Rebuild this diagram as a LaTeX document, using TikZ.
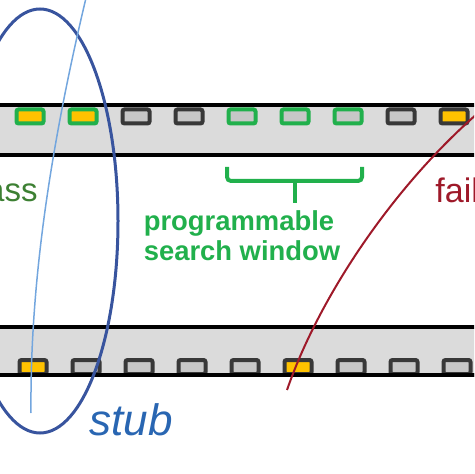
\documentclass[tikz,border=0pt]{standalone}
\usepackage{fontspec}
\setmainfont{Liberation Sans}
\definecolor{stripgray}{rgb}{0.86,0.86,0.86}
\definecolor{slotgray}{rgb}{0.78,0.78,0.78}
\definecolor{slotdark}{rgb}{0.22,0.22,0.22}
\definecolor{slotgrn}{rgb}{0.13,0.69,0.30}
\definecolor{slotyel}{rgb}{1.00,0.76,0.00}
\definecolor{passgrn}{rgb}{0.24,0.50,0.20}
\definecolor{failred}{rgb}{0.62,0.10,0.16}
\definecolor{stubblue}{rgb}{0.16,0.40,0.70}
\definecolor{ringblue}{rgb}{0.22,0.33,0.62}
\definecolor{wireblue}{rgb}{0.45,0.65,0.87}

\begin{document}
\begin{tikzpicture}[x = 0.5pt, y = -0.5pt,
    slot/.style = {draw = slotdark, fill = slotgray, line width = 2pt, rounded corners = 1pt, inner sep = 0pt, minimum width = 13.5pt, minimum height = 7pt},
    rail/.style = {line width = 1.8pt, black},
    txt/.style = {inner sep = 0pt, font = \fontsize{#1}{#1}\selectfont}]
    \useasboundingbox (0,0) rectangle (474,474);
    \clip (0,0) rectangle (474,474);
    % strips
    \fill[stripgray] (-5,105) rectangle (480,155);
    \fill[stripgray] (-5,327) rectangle (480,375);
    \draw[rail] (-5,105) -- (480,105) (-5,155) -- (480,155);
    \draw[rail] (-5,327) -- (480,327) (-5,375) -- (480,375);
    % slots
    \foreach \i/\fc/\dc in {1/slotyel/slotgrn, 2/slotyel/slotgrn, 3/slotgray/slotdark, 4/slotgray/slotdark, 5/slotgray/slotgrn, 6/slotgray/slotgrn, 7/slotgray/slotgrn, 8/slotgray/slotdark, 9/slotyel/slotdark}
        \node[slot, fill = \fc, draw = \dc] (top\i) at ({30+53*(\i-1)},116.5) {};
    \foreach \i/\fc in {1/slotyel, 2/slotgray, 3/slotgray, 4/slotgray, 5/slotgray, 6/slotyel, 7/slotgray, 8/slotgray, 9/slotgray}
        \node[slot, fill = \fc] (bot\i) at ({33+53*(\i-1)},367) {};
    \draw[rail] (-5,375) -- (480,375);
    % window bracket
    \draw[slotgrn, line width = 2pt, rounded corners = 2pt] (227,167) -- (227,181) -- (362,181) -- (362,167);
    \draw[slotgrn, line width = 2pt] (295,181) -- (295,203);
    \node[txt = 13.7pt, slotgrn, anchor = base] (prog) at (239,231) {\bfseries programmable};
    \node[txt = 13.7pt, slotgrn, anchor = base] (win) at (242,261) {\bfseries search window};
    % pass / fail / stub
    \node[txt = 16.5pt, passgrn, anchor = base east] (pass) at (38,202) {pass};
    \node[txt = 17pt, failred, anchor = base west] (fail) at (435,203) {fail};
    \node[txt = 22pt, stubblue, anchor = base west] (stub) at (89,435) {\itshape stub};
    \draw[ringblue, line width = 1.5pt] (40,221) ellipse [x radius = 78, y radius = 212];
    \draw[wireblue, line width = 0.75pt] (86,-2) .. controls (45,170) and (30,300) .. (31,413);
    \draw[failred, line width = 1pt] (287,390) .. controls (318,300) and (390,190) .. (478,113);
\end{tikzpicture}
\end{document}
